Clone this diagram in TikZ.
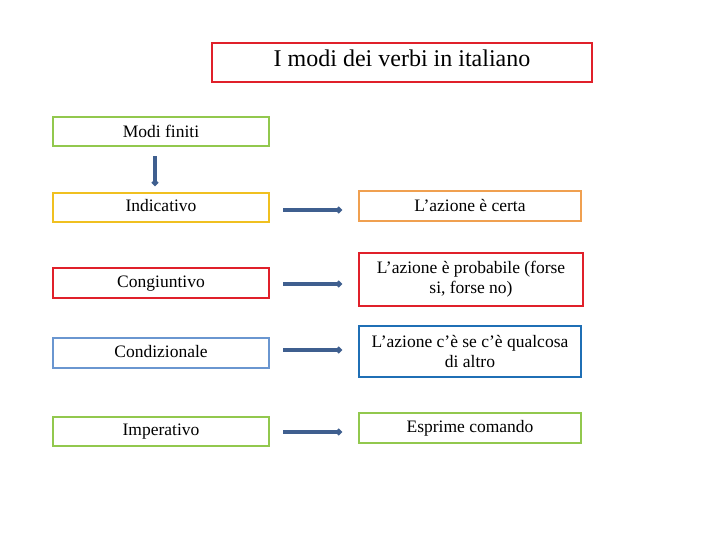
\documentclass[tikz,border=0pt]{standalone}
\usepackage{fontspec}
\setmainfont{Liberation Serif}
\usetikzlibrary{arrows.meta}
\definecolor{cred}{HTML}{E0202A}
\definecolor{cgreen}{HTML}{92C84E}
\definecolor{cgold}{HTML}{F0C020}
\definecolor{clblue}{HTML}{6A96D0}
\definecolor{corange}{HTML}{F0A050}
\definecolor{cdblue}{HTML}{1F6FB5}
\definecolor{carrow}{HTML}{3F5F8F}
\newcommand{\lowtxt}[1]{\smash{\raisebox{-4pt}{#1}}}
\tikzset{
  bx/.style={draw=#1, line width=2.5pt, inner sep=0pt, align=center, font=\fontsize{17.5}{20}\selectfont},
  conn/.style={carrow, line width=4pt, -{Circle[length=6pt,width=6pt]}}
}
\begin{document}
\begin{tikzpicture}[x=1pt,y=-1pt]
\useasboundingbox (0,0) rectangle (720,540);
\node[bx=cred, minimum width=380pt, minimum height=39pt, font=\fontsize{24}{26}\selectfont] (t) at (402,62.5) {\lowtxt{I modi dei verbi in italiano}};
\node[bx=cgreen, minimum width=216pt, minimum height=29pt] (mf) at (161,131.5) {Modi finiti};
\node[bx=cgold, minimum width=216pt, minimum height=29pt] (ind) at (161,207.5) {\lowtxt{Indicativo}};
\node[bx=cred, minimum width=216pt, minimum height=30pt] (con) at (161,283) {\lowtxt{Congiuntivo}};
\node[bx=clblue, minimum width=216pt, minimum height=30pt] (cnd) at (161,353) {\lowtxt{Condizionale}};
\node[bx=cgreen, minimum width=216pt, minimum height=29pt] (imp) at (161,431.5) {\lowtxt{Imperativo}};
\node[bx=corange, minimum width=222pt, minimum height=30pt] (r1) at (470,206) {L’azione è certa};
\node[bx=cred, minimum width=224pt, minimum height=53pt] (r2) at (471,279.5) {L’azione è probabile (forse\\si, forse no)};
\node[bx=cdblue, minimum width=222pt, minimum height=51pt] (r3) at (470,351.5) {L’azione c’è se c’è qualcosa\\di altro};
\node[bx=cgreen, minimum width=222pt, minimum height=30pt] (r4) at (470,428) {Esprime comando};
\draw[conn, shorten <=9pt, shorten >=6pt] (mf.south -| 155,0) -- (ind.north -| 155,0);
\draw[conn, shorten <=13pt, shorten >=16pt] (ind.east |- 0,210) -- (r1.west |- 0,210);
\draw[conn, shorten <=13pt, shorten >=16pt] (con.east |- 0,284) -- (r2.west |- 0,284);
\draw[conn, shorten <=13pt, shorten >=16pt] (cnd.east |- 0,350) -- (r3.west |- 0,350);
\draw[conn, shorten <=13pt, shorten >=16pt] (imp.east |- 0,432) -- (r4.west |- 0,432);
\end{tikzpicture}
\end{document}
